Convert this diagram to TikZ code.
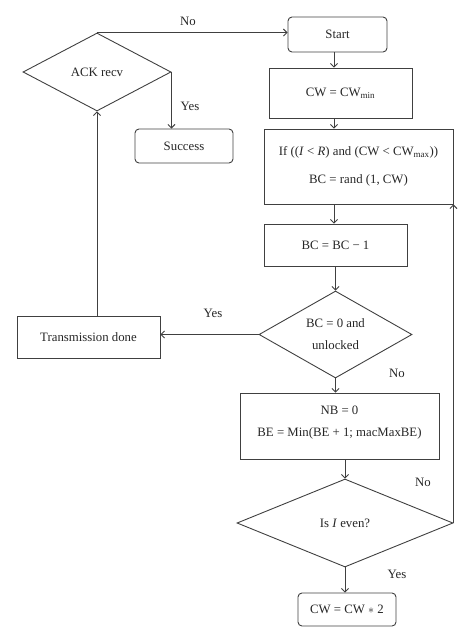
\documentclass[tikz,border=0pt]{standalone}
\usepackage{fontspec}
\setmainfont{Liberation Serif}
\usetikzlibrary{shapes.geometric,arrows.meta,calc}
\begin{document}
\begin{tikzpicture}[x=1pt,y=-1pt,
  every node/.style={font=\fontsize{12.8}{22}\selectfont, text=black!85},
  box/.style={draw=black!75, line width=0.9pt, inner sep=0pt, align=center, minimum width=#1},
  rbox/.style={box=#1, rounded corners=4pt},
  dia/.style={draw=black!75, line width=0.9pt, shape=diamond, inner sep=0pt, align=center},
  lbl/.style={inner sep=0pt},
  conn/.style={draw=black!75, line width=0.9pt, -{Straight Barb[length=3.5pt,width=7pt]}},
  plain/.style={draw=black!75, line width=0.9pt}
]
\useasboundingbox (0,0) rectangle (474,643);

\node[rbox=99pt, minimum height=35pt] (start) at (337.5,34.5) {Start};
\node[box=143pt, minimum height=50pt] (cwmin) at (340.5,93) {CW = CW\textsubscript{min}};
\node[box=189pt, minimum height=75pt, font=\fontsize{12.8}{28}\selectfont] (if) at (358.5,166.5)
  {If ((\textit{I} < \textit{R}) and (CW < CW\textsubscript{max}))\\BC = rand (1, CW)};
\node[box=143pt, minimum height=42pt] (bc1) at (335.5,245) {BC = BC − 1};
\node[dia, minimum width=153pt, minimum height=87pt, aspect=1.76] (d1) at (335.5,334.5) {BC = 0 and\\unlocked};
\node[box=143pt, minimum height=42pt] (trans) at (88.5,337) {Transmission done};
\node[dia, minimum width=148pt, minimum height=78pt, aspect=1.9] (ack) at (97,72) {ACK recv};
\node[rbox=98pt, minimum height=34pt] (succ) at (184,146) {Success};
\node[box=199pt, minimum height=66pt] (nb) at (339.5,426) {NB = 0\\BE = Min(BE + 1; macMaxBE)\\[-12pt]};
\node[dia, minimum width=216pt, minimum height=88pt, aspect=2.45] (d2) at (345,523) {Is \textit{I} even?};
\node[rbox=98pt, minimum height=33pt] (cw2) at (347,609.5) {CW = CW $*$ 2};

% connectors
\draw[conn] (ack.north) -- (ack.north -| start.west);
\draw[conn] (ack.east) -- (ack.east |- succ.north);
\draw[conn] ([xshift=-3.5pt]start.south) -- ([xshift=-3.5pt]start.south |- cwmin.north);
\draw[conn] ([xshift=-3.5pt]start.south |- cwmin.south) -- ([xshift=-3.5pt]start.south |- if.north);
\draw[conn] ([xshift=-3.5pt]start.south |- if.south) -- ([xshift=-3.5pt]start.south |- bc1.north);
\draw[conn] (bc1.south -| d1.north) -- (d1.north);
\draw[conn] (d1.west) -- (d1.west -| trans.east);
\draw[conn] (ack.south |- trans.north) -- (ack.south);
\draw[conn] (d1.south) -- (d1.south |- nb.north);
\draw[conn] (d2.north |- nb.south) -- (d2.north);
\draw[conn] (d2.east) -- (d2.east |- if.south);
\draw[conn] (d2.south) -- (d2.south |- cw2.north);

% labels
\node[lbl] (l1) at (188,21) {No};
\node[lbl] (l2) at (190,106) {Yes};
\node[lbl] (l3) at (213,313) {Yes};
\node[lbl] (l4) at (397,373) {No};
\node[lbl] (l5) at (423,482) {No};
\node[lbl] (l6) at (397,574) {Yes};
\end{tikzpicture}
\end{document}
